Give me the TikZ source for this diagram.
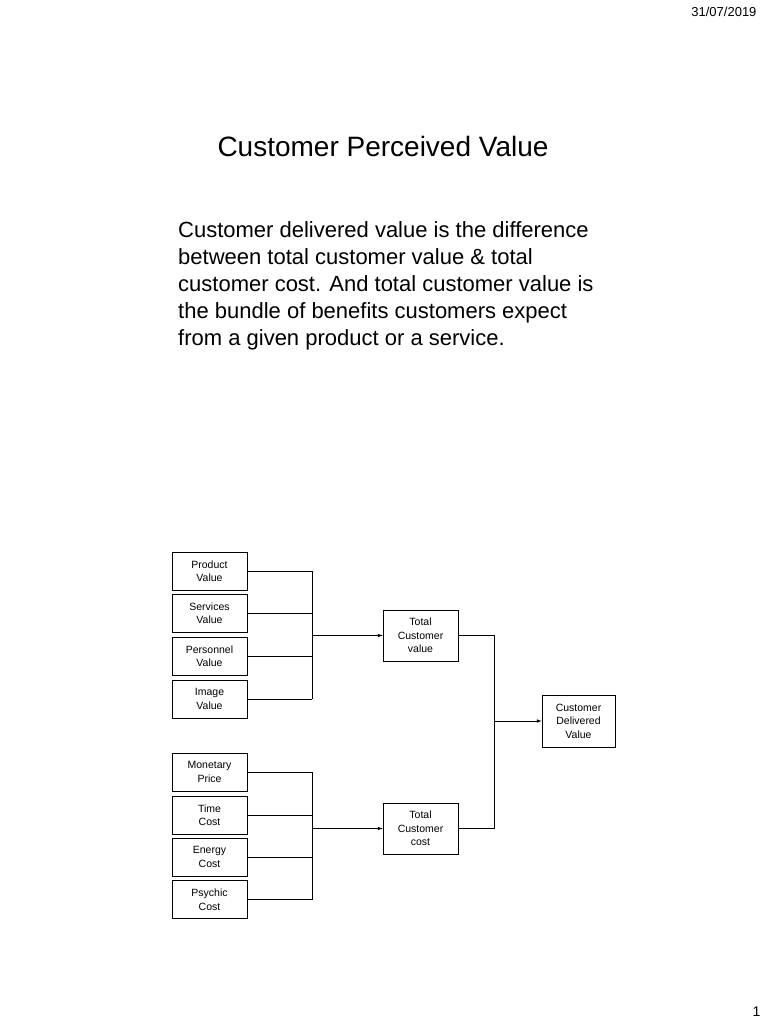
\documentclass[tikz,border=0pt]{standalone}
\usepackage{fontspec}
\setmainfont{Liberation Sans}
\begin{document}
\begin{tikzpicture}[x=1pt,y=-1pt,
  bx/.style={draw,line width=0.7pt,minimum width=75pt,minimum height=38pt,align=center,font=\fontsize{10.5}{13.5}\selectfont,inner sep=1pt},
  ln/.style={line width=0.7pt},
  ar/.style={line width=0.7pt,-latex}]
\useasboundingbox (0,0) rectangle (768,1024);
\node[anchor=east,font=\fontsize{13}{15}\selectfont] (date) at (760,12) {31/07/2019};
\node[anchor=east,font=\fontsize{14}{16}\selectfont] (pg) at (764,1012) {1};
\node[font=\fontsize{28}{32}\selectfont] (title) at (383,146) {Customer Perceived Value};
\node[anchor=north west,align=left,inner sep=0,font=\fontsize{22}{27}\selectfont] (para) at (178,221) {Customer delivered value is the difference\\between total customer value \& total\\customer cost. And total customer value is\\the bundle of benefits customers expect\\from a given product or a service.};
\node[bx] (p1) at (209.5,571) {Product\\Value};
\node[bx] (p2) at (209.5,613) {Services\\Value};
\node[bx] (p3) at (209.5,656) {Personnel\\Value};
\node[bx] (p4) at (209.5,699) {Image\\Value};
\node[bx] (c1) at (209.5,772) {Monetary\\Price};
\node[bx] (c2) at (209.5,815) {Time\\Cost};
\node[bx] (c3) at (209.5,857) {Energy\\Cost};
\node[bx] (c4) at (209.5,899.5) {Psychic\\Cost};
\node[bx,minimum height=51pt] (tv) at (420.5,635.5) {Total\\Customer\\value};
\node[bx,minimum height=51pt] (tc) at (420.5,828.5) {Total\\Customer\\cost};
\node[bx,minimum width=73pt,minimum height=52pt] (cd) at (578.5,721) {Customer\\Delivered\\Value};
\coordinate (j1) at (312,635.5);
\coordinate (j2) at (312,828.5);
\coordinate (j3) at (494,721);
\foreach \n in {p1,p2,p3,p4} \draw[ln] (\n.east) -- (\n.east -| j1);
\draw[ln] (p1.east -| j1) -- (p4.east -| j1);
\foreach \n in {c1,c2,c3,c4} \draw[ln] (\n.east) -- (\n.east -| j2);
\draw[ln] (c1.east -| j2) -- (c4.east -| j2);
\draw[ar] (j1) -- (tv);
\draw[ar] (j2) -- (tc);
\draw[ln] (tv.east) -- (tv.east -| j3) -- (tc.east -| j3) -- (tc.east);
\draw[ar] (j3) -- (cd);
\end{tikzpicture}
\end{document}
